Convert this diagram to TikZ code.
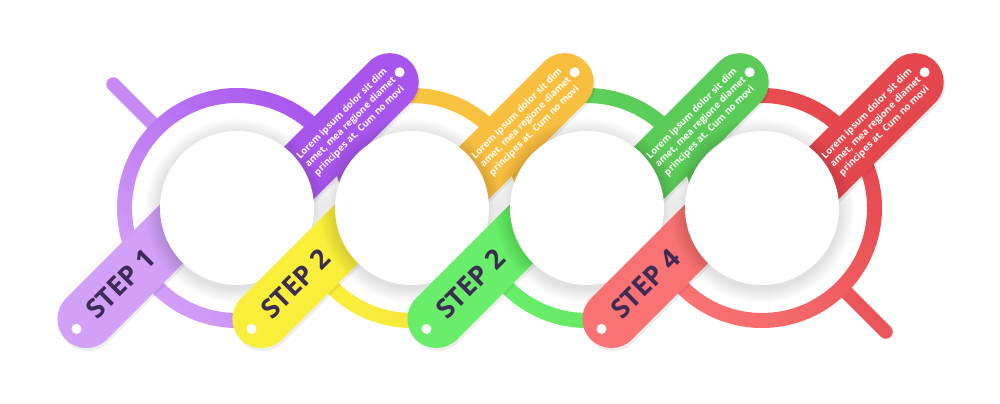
\documentclass[tikz,border=0pt]{standalone}
\usepackage{fontspec}
\setmainfont{Open Sans}
\usetikzlibrary{positioning}
\definecolor{purpleL}{HTML}{D3A0F8}
\definecolor{purpleD}{HTML}{A855EE}
\definecolor{yellowL}{HTML}{F9EF3A}
\definecolor{yellowD}{HTML}{F8BF3F}
\definecolor{greenL}{HTML}{68EE68}
\definecolor{greenD}{HTML}{5ACB57}
\definecolor{redL}{HTML}{FA7373}
\definecolor{redD}{HTML}{E4474C}
\definecolor{handleA}{HTML}{C88BF5}
\definecolor{handleB}{HTML}{E9575C}
\definecolor{stepink}{HTML}{3D2B56}
\tikzstyle{handle}=[line width=7pt, line cap=round]
\tikzstyle{hole}=[fill=white]
\tikzstyle{eyelet}=[fill=white]
\tikzstyle{tabshadow}=[fill=black, opacity=0.07, shift={(-1,-3)}]
\tikzstyle{steplabel}=[text=stepink, font=\fontsize{13.5}{16}\selectfont\bfseries, rotate=45, inner sep=0pt]
\tikzstyle{info}=[text=white, font=\fontsize{4.7}{6.1}\selectfont\bfseries, rotate=45, align=center, inner sep=0pt]

\begin{document}
\begin{tikzpicture}[x=0.5pt, y=0.5pt]
\useasboundingbox (0,0) rectangle (1000,403);

% ring centres
\foreach \name/\x in {c1/237, c2/412, c3/587, c4/762}
\coordinate (\name) at (\x,195);

% handles on the first and the last ring
\draw[handle, color=handleA] ([shift={(135:118)}]c1) -- ([shift={(135:175)}]c1);
\draw[handle, color=handleB] ([shift={(-45:118)}]c4) -- ([shift={(-45:175)}]c4);

% the rings
\foreach \name/\light/\dark in {c1/purpleL/purpleD, c2/yellowL/yellowD, c3/greenL/greenD, c4/redL/redD}
\shade[even odd rule, bottom color=\light, top color=\dark, shading angle=-45] (\name) circle (120) (\name) circle (105);

% tabs, holes and labels
\foreach \name/\light/\dark/\num [count=\i] in {c1/purpleL/purpleD/1, c2/yellowL/yellowD/2, c3/greenL/greenD/2, c4/redL/redD/4}{
\begin{scope}[shift={(\name)}, rotate=45]
  % step tab and text tab
  \fill[tabshadow] (0,-1) -- (-185,-1) arc (270:90:29) -- (0,57) -- cycle;
  \fill[\light] (0,-1) -- (-185,-1) arc (270:90:29) -- (0,57) -- cycle;
  \fill[tabshadow] (0,-48) -- (197,-48) arc (-90:90:29) -- (0,10) -- cycle;
  \fill[\dark] (0,-48) -- (197,-48) arc (-90:90:29) -- (0,10) -- cycle;
  % soft shadow round the hole
  \foreach \k in {1,...,10}
    \fill[black, opacity=0.012] (-2,-2) circle ({77+1.5*\k});
  \fill[hole] (0,0) circle (77);
  \fill[eyelet] (-199,28) circle (5);
  \fill[eyelet] (211,-19) circle (5);
  \node[steplabel] (step\i) at (-136,29) {STEP \num};
  \node[info] (info\i) at (141,-20) {Lorem ipsum dolor sit dim\\amet, mea regione diamet\\principes at. Cum no movi};
\end{scope}}

\end{tikzpicture}
\end{document}
